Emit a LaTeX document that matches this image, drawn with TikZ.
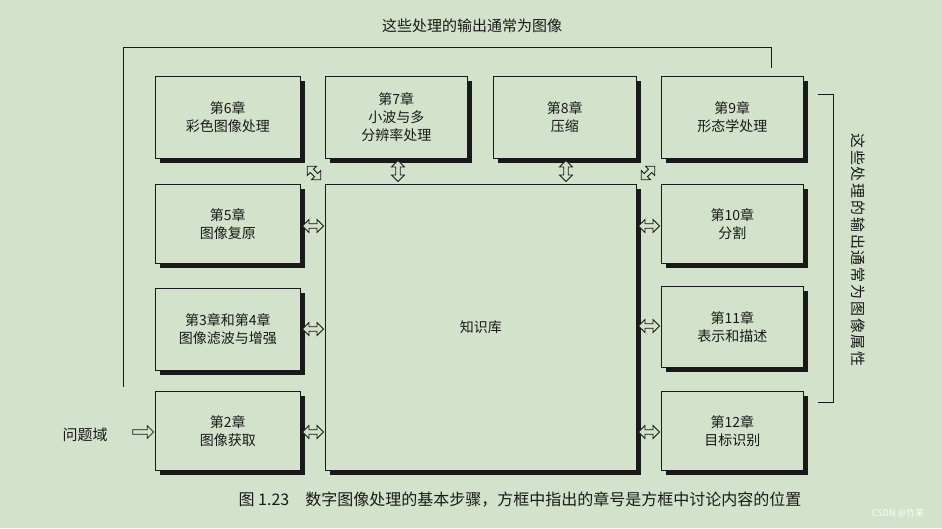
\documentclass[tikz,border=0pt]{standalone}
\usepackage{fontspec}
\setmainfont{Noto Sans CJK SC}
\usetikzlibrary{shapes.arrows}
\definecolor{bg}{RGB}{211,226,202}
\definecolor{ink}{RGB}{25,25,25}
\tikzset{
  chap/.style={draw=ink,line width=0.7pt,fill=bg,align=center,font=\fontsize{14}{18}\selectfont,text=ink,
     inner sep=0pt},
  dbl/.style={shape=double arrow,draw=ink,line width=0.8pt,fill=bg,minimum height=21pt,minimum width=13pt,
     double arrow head extend=2.5pt,inner sep=1pt},
  sgl/.style={shape=single arrow,draw=ink,line width=0.8pt,fill=bg,minimum height=21pt,minimum width=13pt,
     single arrow head extend=2.5pt,inner sep=1pt},
  brk/.style={draw=ink,line width=0.7pt},
  lbl/.style={font=\fontsize{15}{18}\selectfont,text=ink}
}
\newcommand{\cbox}[6]{% name, x1,y1,x2,y2, text
  \fill[ink] (#2+5,#3+5) rectangle (#4+5,#5+5);
  \node[chap,minimum width=#4-#2,minimum height=#5-#3,anchor=north west] (#1) at (#2,#3) {#6};}
\begin{document}
\begin{tikzpicture}[x=1pt,y=-1pt]
\fill[bg] (0,0) rectangle (942,528);
\useasboundingbox (0,0) rectangle (942,528);
% bracket top
\coordinate (t1) at (123,387);
\coordinate (t2) at (123,47);
\coordinate (t3) at (771,47);
\coordinate (t4) at (771,68);
\draw[brk] (t1)--(t2)--(t3)--(t4);
\node[lbl] (toplbl) at (472,26) {这些处理的输出通常为图像};
% bracket right
\coordinate (r1) at (818,94);
\coordinate (r2) at (833,94);
\coordinate (r3) at (833,402);
\coordinate (r4) at (818,402);
\draw[brk] (r1)--(r2)--(r3)--(r4);
\node[lbl,rotate=-90,font=\fontsize{15}{18}\selectfont\addfontfeatures{LetterSpace=12}] (rlbl) at (858,250) {这些处理的输出通常为图像属性};
% boxes
\cbox{c6}{155}{76}{300}{158}{第6章\\彩色图像处理}
\cbox{c7}{325}{76}{467}{158}{第7章\\小波与多\\分辨率处理}
\cbox{c8}{493}{76}{636}{158}{第8章\\压缩}
\cbox{c9}{661}{76}{803}{158}{第9章\\形态学处理}
\cbox{c5}{155}{184}{300}{263}{第5章\\图像复原}
\cbox{c34}{155}{288}{300}{370}{第3章和第4章\\图像滤波与增强}
\cbox{c2}{155}{391}{300}{470}{第2章\\图像获取}
\cbox{kb}{325}{184}{636}{470}{知识库}
\cbox{c10}{661}{184}{803}{263}{第10章\\分割}
\cbox{c11}{661}{286}{803}{367}{第11章\\表示和描述}
\cbox{c12}{661}{391}{803}{470}{第12章\\目标识别}
% arrows
\node[dbl] (a5) at (313,226) {};
\node[dbl] (a34) at (313,329) {};
\node[dbl] (a2) at (313,432) {};
\node[dbl] (a10) at (649,226) {};
\node[dbl] (a11) at (649,326) {};
\node[dbl] (a12) at (649,432) {};
\node[dbl,rotate=90] (a7) at (398,171) {};
\node[dbl,rotate=90] (a8) at (566,171) {};
\node[dbl,rotate=-45,minimum height=19pt] (a6) at (314,173) {};
\node[dbl,rotate=45,minimum height=19pt] (a9) at (648,173) {};
\node[lbl] (pd) at (85,435) {问题域};
\node[sgl] (ain) at (142,432) {};
\node[font=\fontsize{16}{18}\selectfont,text=ink] (cap) at (520,500) {图 1.23\quad 数字图像处理的基本步骤，方框中指出的章号是方框中讨论内容的位置};
\node[font=\fontsize{9}{10}\selectfont,text=white!90!bg] (wm) at (898,513) {CSDN @竹某};
\end{tikzpicture}
\end{document}
